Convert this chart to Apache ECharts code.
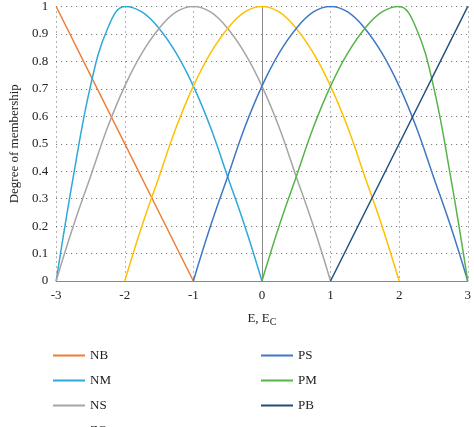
<!DOCTYPE html><html><head><meta charset="utf-8"><script src="https://cdn.jsdelivr.net/npm/echarts@6/dist/echarts.min.js"></script></head><body style="margin:0"><div id="c" style="width:474px;height:427px"></div><script>
const names=['NB','NM','NS','ZO','PS','PM','PB'];
const colors=['#ED7D31','#2EA8D8','#A5A5A5','#FFC000','#3D78C6','#55B548','#1F4E79'];
const NB=[[-3,1],[-1,0]];
const NM=[[-3,0],[-2.75,0.38],[-2.5,0.71],[-2.25,0.92],[-2,1],[-1.75,0.98],[-1.5,0.92],[-1.25,0.83],[-1,0.71],[-0.75,0.56],[-0.5,0.38],[-0.25,0.2],[0,0]];
const NS=[[-3,0],[-2.75,0.2],[-2.5,0.38],[-2.25,0.56],[-2,0.71],[-1.75,0.83],[-1.5,0.92],[-1.25,0.98],[-1,1],[-0.75,0.98],[-0.5,0.92],[-0.25,0.83],[0,0.71],[0.25,0.56],[0.5,0.38],[0.75,0.2],[1,0]];
const ZO=[[-2,0],[-1.75,0.2],[-1.5,0.38],[-1.25,0.56],[-1,0.71],[-0.75,0.83],[-0.5,0.92],[-0.25,0.98],[0,1],[0.25,0.98],[0.5,0.92],[0.75,0.83],[1,0.71],[1.25,0.56],[1.5,0.38],[1.75,0.2],[2,0]];
const PS=[[-1,0],[-0.75,0.2],[-0.5,0.38],[-0.25,0.56],[0,0.71],[0.25,0.83],[0.5,0.92],[0.75,0.98],[1,1],[1.25,0.98],[1.5,0.92],[1.75,0.83],[2,0.71],[2.25,0.56],[2.5,0.38],[2.75,0.2],[3,0]];
const PM=[[0,0],[0.25,0.2],[0.5,0.38],[0.75,0.56],[1,0.71],[1.25,0.83],[1.5,0.92],[1.75,0.98],[2,1],[2.25,0.92],[2.5,0.71],[2.75,0.38],[3,0]];
const PB=[[1,0],[3,1]];
const data=[NB,NM,NS,ZO,PS,PM,PB];
const font='Liberation Serif';
const c=echarts.init(document.getElementById('c'));
const legBase={orient:'vertical',icon:'rect',itemWidth:32,itemHeight:2,itemGap:12,height:120,textStyle:{fontFamily:font,fontSize:13,color:'#222'}};
c.setOption({animation:false,
grid:{left:50,right:5,top:6,height:275},
legend:[Object.assign({left:48,top:344,data:['NB','NM','NS','ZO']},legBase),Object.assign({left:256,top:344,data:['PS','PM','PB']},legBase)],
xAxis:{type:'value',min:-3,max:3,interval:1,name:'{a|E, E}{b|C}',nameLocation:'middle',nameGap:30,nameTextStyle:{rich:{a:{fontFamily:font,fontSize:13,color:'#222'},b:{fontFamily:font,fontSize:10,color:'#222',padding:[6,0,0,0]}}},
axisLine:{lineStyle:{color:'#888'}},axisTick:{show:false},axisLabel:{fontFamily:font,fontSize:13,color:'#222'},splitLine:{lineStyle:{type:[1,4],color:'#666'}}},
yAxis:{type:'value',min:0,max:1,interval:0.1,name:'Degree of membership',nameLocation:'middle',nameGap:32,nameTextStyle:{fontFamily:font,fontSize:13,color:'#222'},
axisLine:{show:true,lineStyle:{color:'#888'}},axisTick:{show:false},axisLabel:{fontFamily:font,fontSize:13,color:'#222',formatter:v=>+v.toFixed(1)+''},splitLine:{lineStyle:{type:[1,4],color:'#666'}}},
series:names.map((n,i)=>({name:n,type:'line',data:data[i],smooth:0.4,showSymbol:false,lineStyle:{width:1.5,color:colors[i]},itemStyle:{color:colors[i]}}))});
</script></body></html>
